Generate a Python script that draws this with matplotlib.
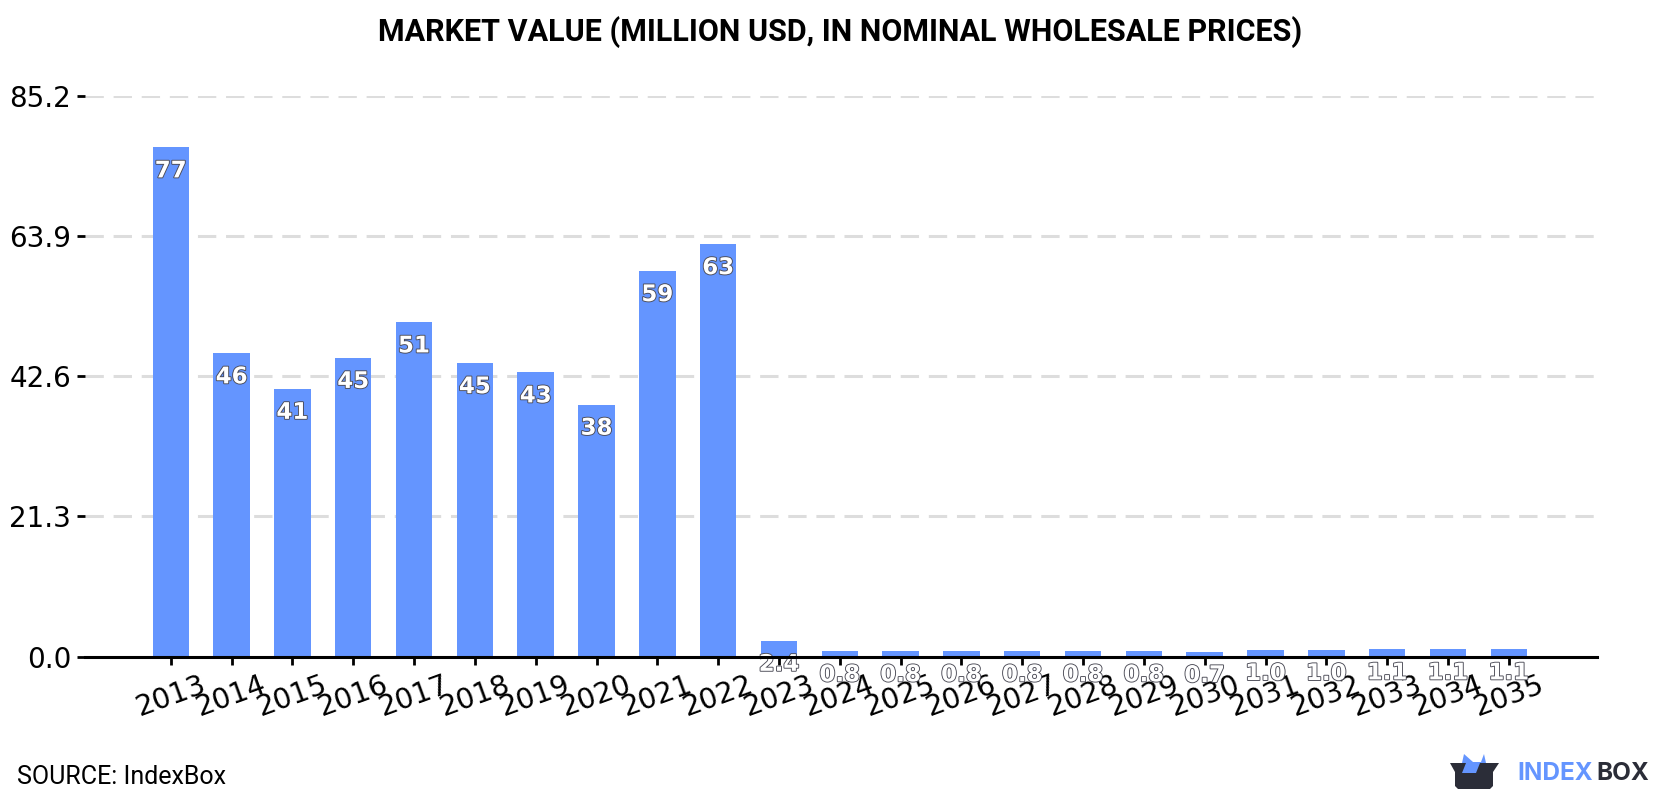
from matplotlib import pyplot as plt
from matplotlib.patches import Polygon
import matplotlib.patheffects as pe
import numpy as np

years = list(range(2013, 2036))
values = [77.4, 46.1, 40.7, 45.4, 50.8, 44.6, 43.2, 38.3, 58.6, 62.7, 2.4, 0.8, 0.8,
          0.8, 0.8, 0.8, 0.8, 0.7, 1.0, 1.0, 1.1, 1.1, 1.1]
y_ticks = [0.0, 21.3, 42.6, 63.9, 85.2]

BLUE = "#6495ff"
DARK = "#2b2d38"

fig = plt.figure(figsize=(16.8, 8), dpi=100)
ax = fig.add_axes([85 / 1680, 1 - 656.5 / 800, (1597 - 85) / 1680, (656.5 - 96) / 800])

x = np.arange(len(years))
ax.bar(x, values, width=0.6, color=BLUE, zorder=1)

# grid goes in by hand so it stays under the bars while tick labels stay on top
for t in y_ticks[1:]:
    ax.axhline(t, color="#dddddd", lw=2.2, dashes=(6, 3.2), zorder=0)

for xi, v in zip(x, values):
    label = f"{v:.0f}" if v >= 10 else f"{v:.1f}"
    ax.annotate(label, (xi, v), xytext=(0, -17), textcoords="offset points",
                ha="center", va="center", fontsize=16.5, fontweight="bold", color="white",
                zorder=2, annotation_clip=False,
                path_effects=[pe.withStroke(linewidth=1.3, foreground="#4a4a55")])

ax.set_xlim(-1.41, 23.45)
ax.set_ylim(0, 85.2)
ax.set_xticks(x)
ax.set_xticklabels(years, rotation=20, fontsize=20.5)
ax.set_yticks(y_ticks)
ax.set_yticklabels([f"{t:.1f}" for t in y_ticks], fontsize=20)
ax.tick_params(axis="both", width=2, length=6, pad=4)

for side in ["top", "left", "right"]:
    ax.spines[side].set_visible(False)
ax.spines["bottom"].set_linewidth(2.2)

fig.text(0.5, 1 - 32 / 800, "MARKET VALUE (MILLION USD, IN NOMINAL WHOLESALE PRICES)",
         ha="center", va="center", fontsize=22, fontweight="bold", family="Roboto")
fig.text(17 / 1680, 1 - 777 / 800, "SOURCE: IndexBox", ha="left", va="center",
         fontsize=18, family="Roboto")

# logo: blue shape rising out of a dark box, then the wordmark
logo = fig.add_axes([0, 0, 1, 1], facecolor="none")
logo.set_xlim(0, 1680)
logo.set_ylim(800, 0)
logo.axis("off")
logo.add_patch(Polygon([(1462, 763), (1464, 754), (1473, 762), (1481, 762), (1484, 754),
                        (1486, 763), (1487, 773), (1462, 773)], color=BLUE, lw=0))
logo.add_patch(Polygon([(1450, 763), (1466, 763), (1462, 773), (1476, 773), (1480, 763),
                        (1499, 763), (1493, 772), (1493, 786), (1490, 789),
                        (1458, 789), (1455, 786), (1455, 772)], color=DARK, lw=0))
logo.text(1517, 774, "INDEX", color=BLUE, fontsize=17.5, fontweight="bold", family="Inter",
          ha="left", va="center")
logo.text(1596, 774, "BOX", color=DARK, fontsize=17.5, fontweight="bold", family="Inter",
          ha="left", va="center")

plt.savefig("out.png", dpi=100)
